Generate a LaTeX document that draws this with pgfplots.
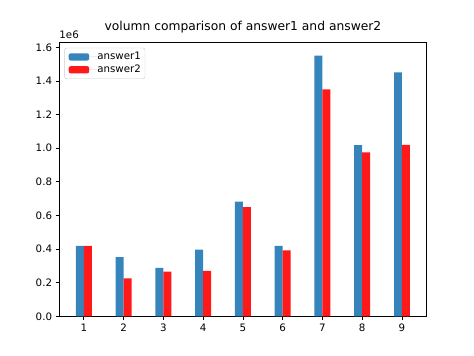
\documentclass[border=0pt]{standalone}
\usepackage{pgfplots}
\pgfplotsset{compat=1.18}
\usepackage{fontspec}
\setmainfont{DejaVu Sans}
\definecolor{bar1}{RGB}{53,133,188}
\definecolor{bar2}{RGB}{255,25,25}
\begin{document}
\begin{tikzpicture}
\path[use as bounding box] (-0.8in,-0.528in) rectangle (5.6in,4.272in);
\begin{axis}[
  at={(0,0)}, anchor=south west,
  scale only axis, width=4.96in, height=3.696in,
  xmin=0.38, xmax=9.62, ymin=0, ymax=1627500,
  xtick={1,2,3,4,5,6,7,8,9},
  ytick={0,200000,400000,600000,800000,1000000,1200000,1400000,1600000},
  tick pos=left, tick align=outside, major tick length=3.5pt,
  axis line style={line width=0.8pt},
  every tick/.style={black, line width=0.8pt},
  scaled y ticks=base 10:-6,
  ytick scale label code/.code={1e6},
  every y tick scale label/.style={at={(rel axis cs:0,1)}, anchor=south west, inner sep=0pt, yshift=4pt},
  /pgf/number format/assume math mode=true,
  y tick label style={/pgf/number format/fixed, /pgf/number format/fixed zerofill, /pgf/number format/precision=1},
  tick label style={font=\fontsize{10}{12}\selectfont},
  title={volumn comparison of answer1 and answer2},
  title style={at={(0.5,1)}, anchor=base, inner sep=0pt, yshift=6pt, font=\fontsize{12}{14}\selectfont},
  legend style={at={(rel axis cs:0,1)}, anchor=north west, xshift=5pt, yshift=-5pt,
    draw=black!20, rounded corners=2pt, font=\fontsize{10}{12}\selectfont,
    inner xsep=4pt, inner ysep=4pt, row sep=3pt,
    nodes={inner xsep=0pt, inner ysep=0pt, text height=7.5pt, text depth=2pt}},
  legend cell align=left,
  legend image code/.code={\fill[#1] (0pt,-3.5pt) rectangle (20pt,3.5pt); \path (0pt,0pt) -- (28pt,0pt);},
]
\addplot[ybar, bar width=0.2, bar shift=-0.1, fill=bar1, draw=none] coordinates {
(1,419000) (2,353000) (3,288000) (4,397000) (5,683000) (6,419000) (7,1551000) (8,1018000) (9,1451000)};
\addlegendentry{answer1}
\addplot[ybar, bar width=0.2, bar shift=0.1, fill=bar2, draw=none] coordinates {
(1,419000) (2,226000) (3,266000) (4,270000) (5,649000) (6,393000) (7,1350000) (8,975000) (9,1020000)};
\addlegendentry{answer2}
\end{axis}
\end{tikzpicture}
\end{document}
